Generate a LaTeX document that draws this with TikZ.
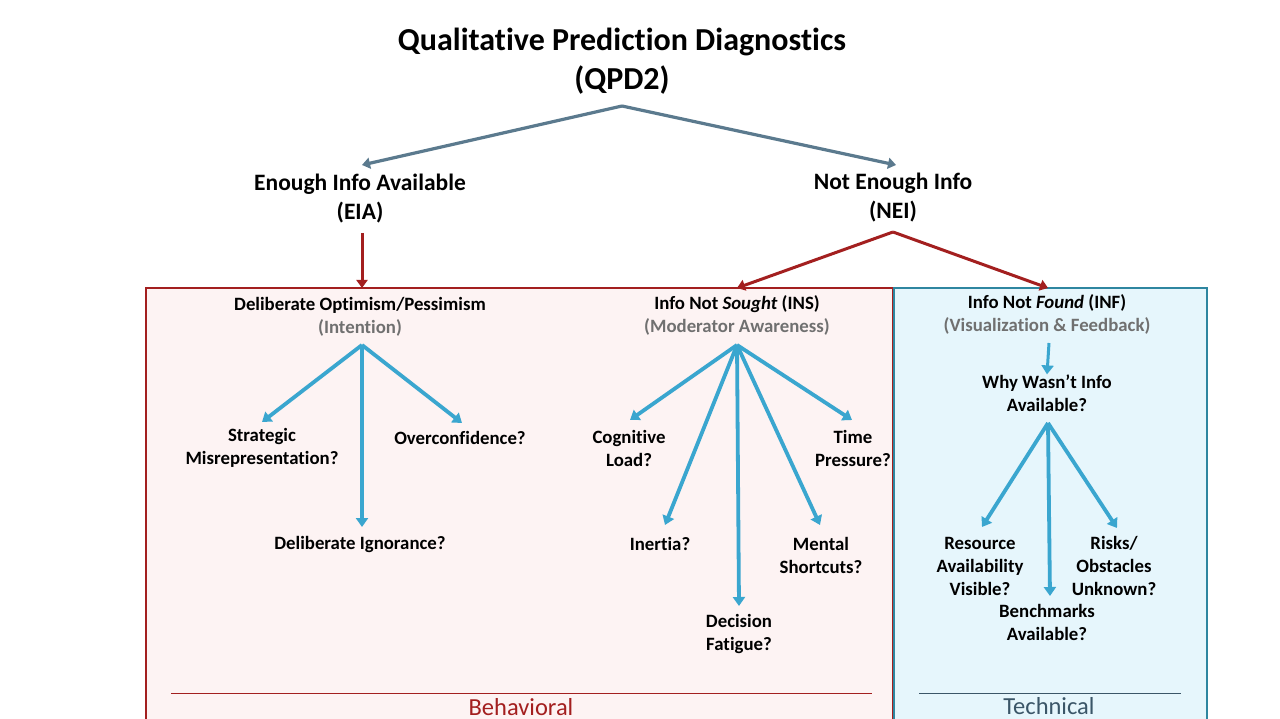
\documentclass[tikz,border=0pt]{standalone}
\usepackage{fontspec}
\setmainfont{Carlito}[Ligatures={NoCommon}]
\usetikzlibrary{arrows.meta}
\definecolor{topgray}{HTML}{5B7A8E}
\definecolor{darkred}{HTML}{A31F1F}
\definecolor{skyblue}{HTML}{3AA6CF}
\definecolor{pinkfill}{HTML}{FDF3F3}
\definecolor{bluefill}{HTML}{E6F6FC}
\definecolor{tealline}{HTML}{2E86A0}
\definecolor{subgray}{HTML}{707070}
\definecolor{techtext}{HTML}{3B5668}
\tikzset{
  x=1pt,y=-1pt,
  ttl/.style={font=\fontsize{32}{38}\selectfont\bfseries,align=center},
  lvl/.style={font=\fontsize{23.5}{29}\selectfont\bfseries,align=center},
  lbl/.style={font=\fontsize{18.8}{23}\selectfont\bfseries,align=center,inner sep=0pt},
  sub/.style={font=\fontsize{18.8}{23}\selectfont\bfseries,text=subgray,inner sep=0pt},
  cat/.style={font=\fontsize{24.5}{28}\selectfont,inner sep=0pt},
  garrow/.style={draw=topgray,line width=3.2pt,-{Triangle[width=11pt,length=8pt]}},
  rarrow/.style={draw=darkred,line width=3pt,-{Triangle[width=11pt,length=8pt]}},
  barrow/.style={draw=skyblue,line width=3.8pt,-{Triangle[width=12pt,length=9pt]}},
}
\begin{document}
\begin{tikzpicture}
\useasboundingbox (0,0) rectangle (1280,719);
\clip (0,0) rectangle (1280,719);
\fill[white] (0,0) rectangle (1280,719);
% boxes
\draw[draw=darkred,fill=pinkfill,line width=2pt] (146,288) rectangle (893,740);
\draw[draw=tealline,fill=bluefill,line width=2pt] (894,288) rectangle (1207,740);
% title
\node[ttl] (t1) at (622,42) {Qualitative Prediction Diagnostics};
\node[ttl] (t2) at (622,80) {(QPD2)};
\coordinate (tap) at (622,106);
% level 1
\node[lvl] (eia) at (360,184) {Enough Info Available};
\node[lvl] (eia2) at (360,213) {(EIA)};
\node[lvl] (nei) at (893,183) {Not Enough Info};
\node[lvl] (nei2) at (893,212) {(NEI)};
\coordinate (eiatip) at (362,165);
\coordinate (neitip) at (896,165);
\draw[garrow] (tap) -- (eiatip);
\draw[garrow] (tap) -- (neitip);
% level 2 headers
\node[lbl] (dop) at (360,305) {Deliberate Optimism/Pessimism};
\node[sub] (int) at (360,328) {(Intention)};
\node[lbl] (ins) at (737,304) {Info Not \textit{Sought} (INS)};
\node[sub] (mod) at (737,327) {(Moderator Awareness)};
\node[lbl] (inf) at (1047,303) {Info Not \textit{Found} (INF)};
\node[sub] (vis) at (1047,326) {(Visualization \& Feedback)};
\coordinate (eiab) at (362,233);
\coordinate (dopt) at (362,288);
\coordinate (neib) at (893,232);
\coordinate (inst) at (737,288);
\coordinate (inft) at (1048,288);
\draw[rarrow] (eiab) -- (dopt);
\draw[rarrow] (neib) -- (inst);
\draw[rarrow] (neib) -- (inft);
% intention branch
\coordinate (ia) at (362,345);
\node[lbl] (sm) at (262,448) {Strategic\\Misrepresentation?};
\node[lbl] (oc) at (460,438) {Overconfidence?};
\node[lbl] (di) at (360,544) {Deliberate Ignorance?};
\draw[barrow] (ia) -- (262,422);
\draw[barrow] (ia) -- (362,527);
\draw[barrow] (ia) -- (462,423);
% INS branch
\coordinate (ma) at (737,345);
\node[lbl] (cl) at (629,448) {Cognitive\\Load?};
\node[lbl] (tp) at (853,448) {Time\\Pressure?};
\node[lbl] (in) at (660,544) {Inertia?};
\node[lbl] (ms) at (821,555) {Mental\\Shortcuts?};
\node[lbl] (df) at (739,634) {Decision\\Fatigue?};
\draw[barrow] (ma) -- (630,420);
\draw[barrow] (ma) -- (665,525);
\draw[barrow] (ma) -- (739,606);
\draw[barrow] (ma) -- (820,525);
\draw[barrow] (ma) -- (852,420);
% INF branch
\node[lbl] (why) at (1047,393) {Why Wasn’t Info\\Available?};
\draw[barrow,line width=3pt] (1049,343) -- (why.north);
\coordinate (wa) at (1048,423);
\node[lbl] (ra) at (980,566) {Resource\\Availability\\Visible?};
\node[lbl] (ro) at (1114,566) {Risks/\\Obstacles\\Unknown?};
\node[lbl] (ba) at (1047,622) {Benchmarks\\Available?};
\draw[barrow] (wa) -- (982,527);
\draw[barrow] (wa) -- (1050,596);
\draw[barrow] (wa) -- (1117,528);
% bottom labels
\draw[darkred,line width=0.8pt] (171,693) -- (872,693);
\node[cat,text=darkred,anchor=base] (beh) at (521,715) {Behavioral};
\draw[techtext,line width=0.8pt] (919,693) -- (1181,693);
\node[cat,text=techtext,anchor=base] (tech) at (1049,714) {Technical};
\end{tikzpicture}
\end{document}
